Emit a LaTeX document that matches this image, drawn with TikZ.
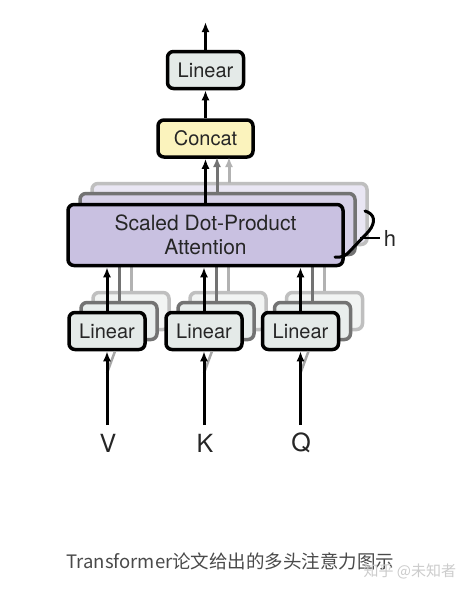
\documentclass[tikz,border=0pt]{standalone}
\usepackage{fontspec}
\setmainfont{TeX Gyre Heros}
\newfontfamily\cjk{Noto Sans CJK SC}
\usetikzlibrary{arrows.meta}
\definecolor{lingray}{HTML}{E4EAE8}
\definecolor{concaty}{HTML}{FBF3BD}
\definecolor{attn}{HTML}{C9C1E1}
\definecolor{capgray}{HTML}{4A4A4A}
\tikzset{
  box/.style={draw=black, line width=3.5pt, rounded corners=6pt, inner sep=0pt, font=\fontsize{20}{24}\selectfont, text=black!85},
  linbox/.style={box, fill=lingray, minimum width=76pt, minimum height=37pt},
  linmid/.style={linbox, draw=black!55, fill=lingray!80},
  linback/.style={linbox, draw=black!25, fill=lingray!50},
  attbox/.style={box, fill=attn, minimum width=275pt, minimum height=61pt, align=center, font=\fontsize{21}{23.5}\selectfont},
  attmid/.style={attbox, draw=black!55, fill=attn!75},
  attback/.style={attbox, draw=black!25, fill=attn!40},
  arr/.style={line width=3pt, -{Latex[length=10pt,width=8pt]}},
  arrmid/.style={arr, draw=black!55},
  arrback/.style={arr, draw=black!30},
  shline/.style={line width=3pt},
  lab/.style={font=\fontsize{25}{28}\selectfont, text=black!85},
}
\begin{document}
\begin{tikzpicture}[x=1pt,y=-1pt]
\useasboundingbox[fill=white] (0,0) rectangle (456,589);

% attention stack (back to front)
\node[attback] (attB) at (229.5,214) {};
\node[attmid] (attM) at (217.5,224) {};
% linear back layers
\foreach \n/\x in {v/107,k/204,q/300.5}{
  \node[linback] (l\n B) at (\x+24,311) {};
  \node[linmid] (l\n M) at (\x+12,321) {};
}
% shadow lines from back linears up to attention
\foreach \n in {v,k,q}{
  \draw[shline, draw=black!30] (l\n B.north) -- ++(0,-30);
  \draw[shline, draw=black!55] (l\n M.north) -- ++(0,-40);
}
\node[attbox] (att) at (205.5,235) {Scaled Dot-Product\\Attention};

% front linears
\node[linbox] (lv) at (107,331) {Linear};
\node[linbox] (lk) at (204,331) {Linear};
\node[linbox] (lq) at (300.5,331) {Linear};

% inputs
\node[lab] (V) at (108,443) {V};
\node[lab] (K) at (205,443) {K};
\node[lab] (Q) at (301,443) {Q};
\coordinate (sv) at (107,425);
\coordinate (sk) at (204,425);
\coordinate (sq) at (300.5,425);

\foreach \n in {v,k,q}{
  \draw[line width=2.5pt, draw=black!35] ([yshift=52pt]s\n) -- ([xshift=8pt]l\n.south);
  \draw[arr] (s\n) -- (l\n.south);
  \draw[arr] (l\n.north) -- (l\n.north |- att.south);
}

% concat and top linear
\node[box, fill=concaty, minimum width=95pt, minimum height=37pt] (concat) at (205.5,138.5) {Concat};
\node[linbox] (ltop) at (205.5,70) {Linear};
\coordinate (out) at (205.5,22);

\draw[arrback] (229,183) -- (229,157);
\draw[arrmid] (217,193) -- (217,157);
\draw[arr] (att.north) -- (concat.south);
\draw[arr] (concat.north) -- (ltop.south);
\draw[arr] (ltop.north) -- (out);

% brace and h
\draw[line width=3pt, line cap=round] (365,211) .. controls (375,214) and (376,222) .. (369,231) -- (350,251) .. controls (346,256) and (341,258) .. (335,257);
\node[lab, font=\fontsize{22}{26}\selectfont] (h) at (390,238) {h};
\coordinate (hc) at (360,238);
\draw[line width=2.5pt] (hc) -- (h.west);

% caption
\node[font=\cjk\fontsize{18.5}{22}\selectfont, text=capgray, anchor=west] (cap) at (63,561) {Transformer论文给出的多头注意力图示};
\node[font=\cjk\fontsize{15}{18}\selectfont, text=black!20, anchor=west] (wm) at (360,571) {知乎 @未知者};
\end{tikzpicture}
\end{document}
